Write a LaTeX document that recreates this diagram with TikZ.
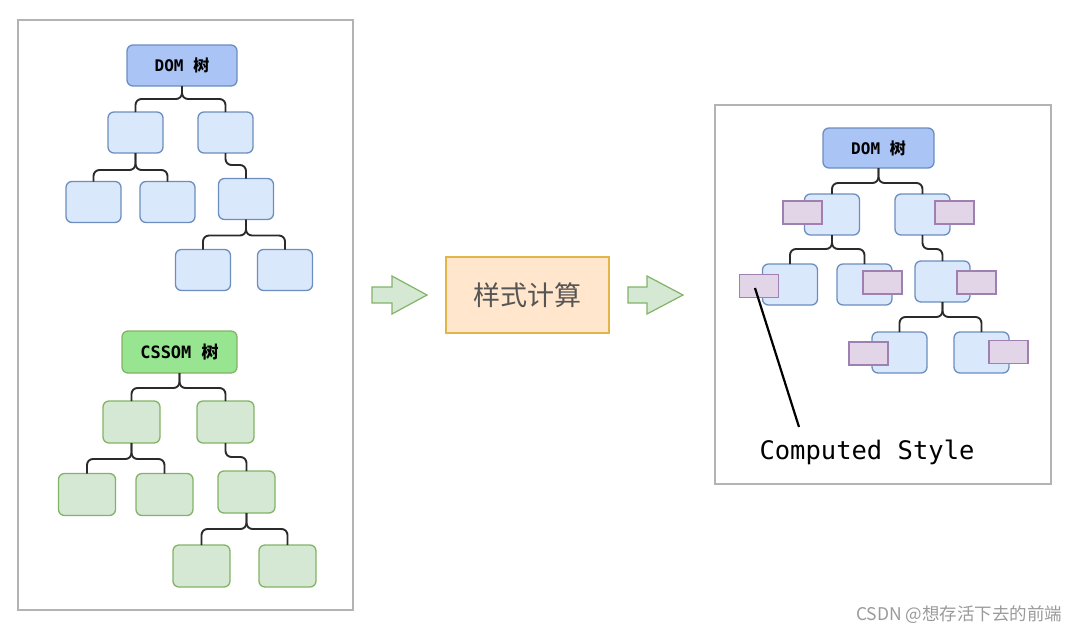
\documentclass[tikz,border=0pt]{standalone}
\usepackage{fontspec}
\setmonofont{DejaVu Sans Mono}
\newfontfamily\cjk{Noto Sans CJK SC}
\usetikzlibrary{calc}
\definecolor{dstroke}{HTML}{6C8EBF}
\definecolor{dfill}{HTML}{DAE8FC}
\definecolor{drootfill}{HTML}{A9C4F5}
\definecolor{gstroke}{HTML}{82B366}
\definecolor{gfill}{HTML}{D5E8D4}
\definecolor{grootfill}{HTML}{97E591}
\definecolor{pstroke}{HTML}{A080B0}
\definecolor{pfill}{HTML}{E1D5E7}
\definecolor{ostroke}{HTML}{E3B448}
\definecolor{ofill}{HTML}{FFE6CC}
\definecolor{panelc}{HTML}{B3B3B3}
\definecolor{linec}{HTML}{2A2A2A}
\definecolor{textg}{HTML}{555555}
\definecolor{wmark}{HTML}{9A9A9A}
\tikzset{
  base/.style={inner sep=0pt, outer sep=0pt, line width=1.3pt},
  dbox/.style={base, draw=dstroke, fill=dfill, rounded corners=6pt, minimum width=55pt, minimum height=41pt},
  droot/.style={dbox, fill=drootfill, minimum width=110pt, font=\ttfamily\bfseries\fontsize{16}{19}\selectfont},
  gbox/.style={base, draw=gstroke, fill=gfill, rounded corners=6pt, minimum width=57pt, minimum height=42pt},
  groot/.style={gbox, fill=grootfill, minimum width=115pt, font=\ttfamily\bfseries\fontsize{17}{20}\selectfont},
  pbox/.style={base, draw=pstroke, fill=pfill, minimum width=39pt, minimum height=23pt},
  panel/.style={base, draw=panelc, line width=1.3pt},
  conn/.style={draw=linec, line width=1.9pt, rounded corners=6pt},
  pointer/.style={draw=black, line width=2.2pt},
  garrow/.style={draw=gstroke, fill=gfill, line width=1.2pt, line join=miter},
  calcbox/.style={base, draw=ostroke, fill=ofill, line width=1.5pt, minimum width=163pt, minimum height=76pt, font=\cjk\fontsize{27}{32}\selectfont, text=textg},
}
\begin{document}
\begin{tikzpicture}[x=1pt,y=-1pt]
\useasboundingbox (0,0) rectangle (1080,633);
% panels
\node[panel, minimum width=335pt, minimum height=590pt] (lpanel) at (185.5,315) {};
\node[panel, minimum width=336pt, minimum height=379pt] (rpanel) at (883,294.5) {};

% ---------- left DOM tree ----------
\node[droot] (dr) at (182,65.5) {DOM {\cjk\bfseries 树}};
\node[dbox] (da) at (135.5,132.5) {};
\node[dbox] (db) at (225.5,132.5) {};
\node[dbox] (dc) at (93.5,202) {};
\node[dbox] (dd) at (167.5,202) {};
\node[dbox] (de) at (246,199) {};
\node[dbox] (df) at (203,270) {};
\node[dbox] (dg) at (285,270) {};
\draw[conn] (dr.south) -- ++(0,13) -| (da.north);
\draw[conn] (dr.south) -- ++(0,13) -| (db.north);
\draw[conn] (da.south) -- ++(0,17) -| (dc.north);
\draw[conn] (da.south) -- ++(0,17) -| (dd.north);
\draw[conn] (db.south) -- ++(0,12) -| (de.north);
\draw[conn] (de.south) -- ++(0,16) -| (df.north);
\draw[conn] (de.south) -- ++(0,16) -| (dg.north);

% ---------- left CSSOM tree ----------
\node[groot, minimum height=42pt] (gr) at (179.5,352) {CSSOM {\cjk\bfseries 树}};
\node[gbox] (ga) at (131.5,422) {};
\node[gbox] (gb) at (225.5,422) {};
\node[gbox] (gc) at (87,494.5) {};
\node[gbox] (gd) at (164.5,494.5) {};
\node[gbox] (ge) at (246.5,492) {};
\node[gbox] (gf) at (201.5,566) {};
\node[gbox] (gg) at (287.5,566) {};
\draw[conn] (gr.south) -- ++(0,15) -| (ga.north);
\draw[conn] (gr.south) -- ++(0,15) -| (gb.north);
\draw[conn] (ga.south) -- ++(0,16) -| (gc.north);
\draw[conn] (ga.south) -- ++(0,16) -| (gd.north);
\draw[conn] (gb.south) -- ++(0,14) -| (ge.north);
\draw[conn] (ge.south) -- ++(0,16) -| (gf.north);
\draw[conn] (ge.south) -- ++(0,16) -| (gg.north);

% ---------- middle ----------
\node[calcbox] (calc) at (527.5,295) {样式计算};
\coordinate (a1) at (372,295);
\draw[garrow] (a1) ++(0,-8) -- ++(20,0) -- ++(0,-11) -- ++(35,19) -- ++(-35,19) -- ++(0,-11) -- ++(-20,0) -- cycle;
\coordinate (a2) at (628,295);
\draw[garrow] (a2) ++(0,-8) -- ++(19,0) -- ++(0,-11) -- ++(36,19) -- ++(-36,19) -- ++(0,-11) -- ++(-19,0) -- cycle;

% ---------- right DOM tree with computed styles ----------
\node[droot, minimum width=111pt, minimum height=40pt] (rr) at (878.5,148) {DOM {\cjk\bfseries 树}};
\node[dbox] (ra) at (832,214.5) {};
\node[dbox] (rb) at (922.5,214.5) {};
\node[dbox] (rc) at (790,284.5) {};
\node[dbox] (rd) at (864.5,284.5) {};
\node[dbox] (re) at (942.5,281.5) {};
\node[dbox] (rf) at (899.5,352.5) {};
\node[dbox] (rg) at (981.5,352.5) {};
\draw[conn] (rr.south) -- ++(0,15) -| (ra.north);
\draw[conn] (rr.south) -- ++(0,15) -| (rb.north);
\draw[conn] (ra.south) -- ++(0,14) -| (rc.north);
\draw[conn] (ra.south) -- ++(0,14) -| (rd.north);
\draw[conn] (rb.south) -- ++(0,14) -| (re.north);
\draw[conn] (re.south) -- ++(0,15) -| (rf.north);
\draw[conn] (re.south) -- ++(0,15) -| (rg.north);
\node[pbox] (p1) at (802.5,212.5) {};
\node[pbox] (p2) at (954.5,212.5) {};
\node[pbox] (p3) at (759,286) {};
\node[pbox] (p4) at (882.5,282.5) {};
\node[pbox] (p5) at (976.5,282.5) {};
\node[pbox] (p6) at (868.5,353.5) {};
\node[pbox] (p7) at (1008.5,352) {};
\coordinate (ptr) at (799,427);
\draw[pointer] ($(p3.center)+(-4,2)$) -- (ptr);
\node[font=\ttfamily\fontsize{25.5}{30}\selectfont, anchor=center] (cs) at (867,452) {Computed Style};

% watermark
\node[font=\cjk\fontsize{17.5}{21}\selectfont, text=wmark, anchor=east] (wm) at (1066,615) {CSDN @想存活下去的前端};
\end{tikzpicture}
\end{document}
